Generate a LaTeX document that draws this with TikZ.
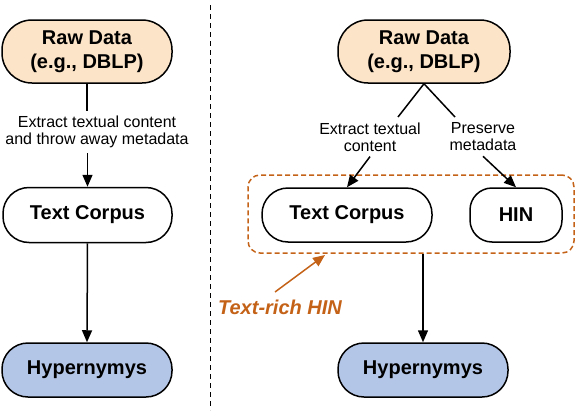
\documentclass[tikz,border=0pt]{standalone}
\usepackage{fontspec}
\setmainfont{Liberation Sans}
\usetikzlibrary{arrows.meta}
\definecolor{peach}{RGB}{252,228,200}
\definecolor{lblue}{RGB}{180,198,231}
\definecolor{rorange}{RGB}{196,98,24}
\tikzset{
  pill/.style={draw=black, line width=1.5pt, rounded corners=26pt, inner sep=0pt,
    font=\fontsize{20}{24}\selectfont\bfseries, align=center},
  lab/.style={font=\fontsize{16}{17}\selectfont, align=center, inner sep=5pt},
  conn/.style={line width=1.5pt, draw=black},
  arr/.style={conn, -{Triangle[length=12pt,width=10pt]}},
}
\begin{document}
\begin{tikzpicture}[x=1pt,y=-1pt]
\useasboundingbox (0,0) rectangle (578,415);
% left column
\node[pill, fill=peach, minimum width=170pt, minimum height=63pt, rounded corners=30pt] (raw1) at (87,51.5) {Raw Data\\(e.g., DBLP)};
\node[lab] (lab1) at (97,132) {Extract textual content\\and throw away metadata};
\node[pill, fill=white, minimum width=169pt, minimum height=55pt] (tc1) at (87.5,215) {Text Corpus};
\node[pill, fill=lblue, minimum width=170pt, minimum height=54pt] (hy1) at (87,370) {Hypernymys};
\draw[conn] (raw1.south) -- (raw1.south |- lab1.north);
\draw[arr] (tc1.north |- lab1.south) -- (tc1.north);
\draw[arr] (tc1.south) -- (hy1.north);
% separator
\coordinate (s1) at (210,5);
\coordinate (s2) at (210,410);
\draw[line width=1pt, dash pattern=on 5pt off 4pt] (s1) -- (s2);
% right column
\node[pill, fill=peach, minimum width=172pt, minimum height=63pt, rounded corners=30pt] (raw2) at (424,51.5) {Raw Data\\(e.g., DBLP)};
\node[lab] (lab2) at (370,137) {Extract textual\\content};
\node[lab] (lab3) at (483,137) {Preserve\\metadata};
\node[draw=rorange, line width=1.5pt, dash pattern=on 5pt off 3pt, rounded corners=12pt,
  minimum width=326pt, minimum height=78pt, inner sep=0pt] (grp) at (411,214) {};
\node[pill, fill=white, minimum width=170pt, minimum height=54pt] (tc2) at (347,215) {Text Corpus};
\node[pill, fill=white, minimum width=92pt, minimum height=54pt, rounded corners=22pt] (hin) at (516,215) {HIN};
\node[pill, fill=lblue, minimum width=170pt, minimum height=54pt] (hy2) at (423,370) {Hypernymys};
\coordinate (a1) at (398,117);
\coordinate (a2) at (455,117);
\draw[conn] (raw2.south) -- (a1);
\draw[conn] (raw2.south) -- (a2);
\draw[arr] (lab2.south) -- (tc2.north);
\draw[arr] (lab3.south) -- (hin.north);
\coordinate (g) at (grp.south -| hy2.north);
\draw[arr] (g) -- (hy2.north);
% text-rich HIN label
\node[font=\fontsize{20}{24}\selectfont\bfseries\itshape, text=rorange, inner sep=0pt] (tr) at (280,307) {Text-rich HIN};
\coordinate (t1) at (275,292);
\coordinate (t2) at (325,255);
\draw[line width=1.5pt, draw=rorange, -{Triangle[length=12pt,width=10pt]}, rorange] (t1) -- (t2);
\end{tikzpicture}
\end{document}
